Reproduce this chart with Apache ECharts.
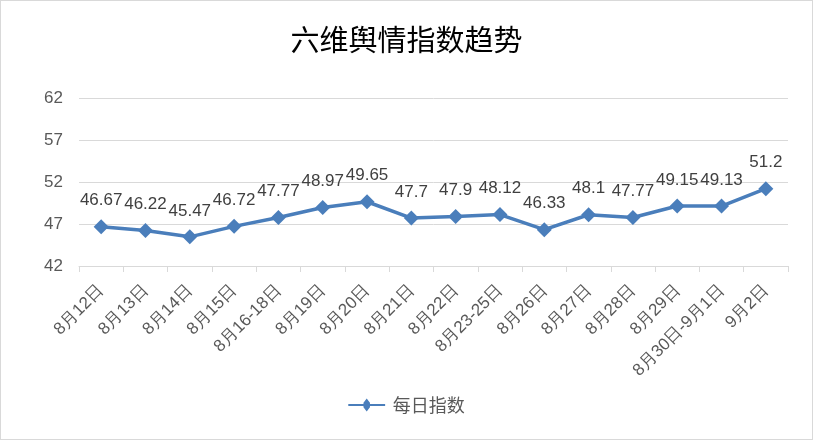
<!DOCTYPE html>
<html><head><meta charset="utf-8">
<script src="https://cdn.jsdelivr.net/npm/echarts@6/dist/echarts.min.js"></script>
<style>html,body{margin:0;padding:0;background:#fff}#c{width:813px;height:440px;box-sizing:border-box;border:1px solid #d9d9d9}</style>
</head><body><div id="c"></div>
<script>
const categories = ['8月12日','8月13日','8月14日','8月15日','8月16-18日','8月19日','8月20日','8月21日','8月22日','8月23-25日','8月26日','8月27日','8月28日','8月29日','8月30日-9月1日','9月2日'];
const values = [46.67,46.22,45.47,46.72,47.77,48.97,49.65,47.7,47.9,48.12,46.33,48.1,47.77,49.15,49.13,51.2];
const seriesName = '每日指数';
const titleText = '六维舆情指数趋势';
const chart = echarts.init(document.getElementById('c'));
chart.setOption({
  animation:false,
  title:{text:titleText,left:'center',top:19,textStyle:{fontFamily:'Noto Sans CJK SC',fontSize:29,fontWeight:'normal',color:'#000'}},
  grid:{left:78,right:24,top:97,bottom:173},
  legend:{bottom:20,left:'center',itemWidth:42,itemHeight:13,itemGap:10,textStyle:{fontFamily:'Noto Sans CJK SC',fontSize:18,color:'#595959'},data:[{name:seriesName,icon:'path://M0,5 L14,5 L14,4 L17,0 L20,4 L20,5 L34,5 L34,7 L20,7 L20,8 L17,12 L14,8 L14,7 L0,7 Z'}]},
  xAxis:{type:'category',data:categories,boundaryGap:true,
    axisLine:{lineStyle:{color:'#d9d9d9'}},
    axisTick:{show:true,length:6,lineStyle:{color:'#d9d9d9'}},
    axisLabel:{rotate:45,interval:0,color:'#595959',fontFamily:'Liberation Sans',fontSize:17,margin:22}},
  yAxis:{type:'value',min:42,max:62,interval:5,
    axisLine:{show:false},axisTick:{show:false},
    splitLine:{lineStyle:{color:'#d9d9d9'}},
    axisLabel:{color:'#595959',fontFamily:'Liberation Sans',fontSize:17,margin:16}},
  series:[{name:seriesName,type:'line',data:values,
    lineStyle:{color:'#4a7ebb',width:3.5},
    itemStyle:{color:'#4a7ebb'},
    symbol:'diamond',symbolSize:15,
    label:{show:true,position:'top',distance:10,color:'#404040',fontFamily:'Liberation Sans',fontSize:17}}]
});
</script></body></html>
